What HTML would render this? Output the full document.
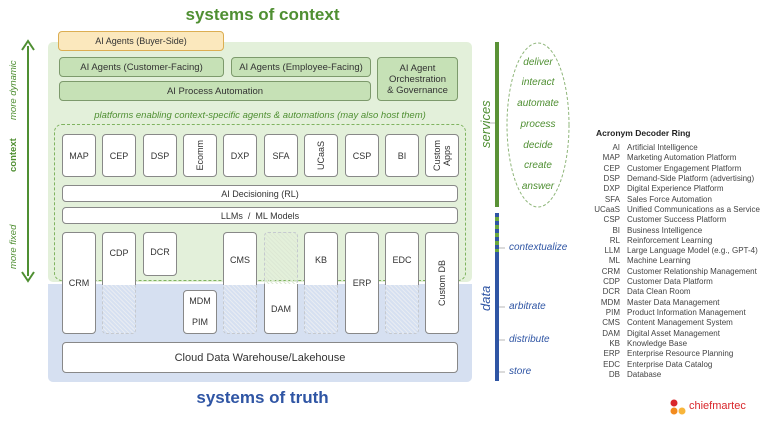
<!DOCTYPE html>
<html><head><meta charset="utf-8"><style>
*{margin:0;padding:0;box-sizing:border-box}
body{width:768px;height:422px;background:#fff;position:relative;overflow:hidden;font-family:"Liberation Sans",sans-serif;color:#333}
.a{position:absolute}
.b{position:absolute;border:1px solid #888;border-radius:4px;background:#fff;display:flex;align-items:center;justify-content:center;font-size:9px;color:#333;text-align:center}
.g{background:#c6e1b6;border-color:#7d9a6c;font-size:9.5px;line-height:11px}
.h{position:absolute;border:1px dashed #c5c9cf;border-radius:0 0 4px 4px;background:repeating-linear-gradient(45deg,#e8ecf2 0 1px,transparent 1px 3px)}
.v{writing-mode:vertical-rl;transform:rotate(180deg)}
.gi{color:#4f8f32;font-style:italic}
.bi{color:#2f55a4;font-style:italic}
.w{position:absolute;left:507px;width:62px;text-align:center;font-size:10px}
.ac{position:absolute;left:560px;font-size:8px;color:#444;white-space:nowrap}
.ac span{display:inline-block;width:60px;text-align:right;margin-right:7px}
</style></head><body>
<div class="a" style="left:0;top:5px;width:525px;text-align:center;font-size:17px;font-weight:bold;color:#4f8f32">systems of context</div>
<div class="a" style="left:48px;top:42px;width:424px;height:240px;background:#e3f0da;border-radius:5px"></div>
<div class="a" style="left:48px;top:284px;width:424px;height:98px;background:#d6e0f1;border-radius:0 0 5px 5px"></div>
<div class="b" style="left:58px;top:31px;width:166px;height:20px;background:#fbe8bd;border-color:#dcae52">AI Agents (Buyer-Side)</div>
<div class="b g" style="left:59px;top:57px;width:165px;height:20px">AI Agents (Customer-Facing)</div>
<div class="b g" style="left:231px;top:57px;width:140px;height:20px">AI Agents (Employee-Facing)</div>
<div class="b g" style="left:377px;top:57px;width:81px;height:44px">AI Agent<br>Orchestration<br>&amp; Governance</div>
<div class="b g" style="left:59px;top:81px;width:312px;height:20px">AI Process Automation</div>
<div class="a gi" style="left:48px;top:110px;width:424px;text-align:center;font-size:9.5px">platforms enabling context-specific agents &amp; automations (may also host them)</div>
<div class="a" style="left:54px;top:124px;width:412px;height:157px;border:1px dashed #7fb35f;border-radius:8px"></div>
<div class="b" style="left:62px;top:134px;width:34px;height:43px">MAP</div>
<div class="b" style="left:102px;top:134px;width:34px;height:43px">CEP</div>
<div class="b" style="left:143px;top:134px;width:34px;height:43px">DSP</div>
<div class="b" style="left:183px;top:134px;width:34px;height:43px"><span class="v">Ecomm</span></div>
<div class="b" style="left:223px;top:134px;width:34px;height:43px">DXP</div>
<div class="b" style="left:264px;top:134px;width:34px;height:43px">SFA</div>
<div class="b" style="left:304px;top:134px;width:34px;height:43px"><span class="v">UCaaS</span></div>
<div class="b" style="left:345px;top:134px;width:34px;height:43px">CSP</div>
<div class="b" style="left:385px;top:134px;width:34px;height:43px">BI</div>
<div class="b" style="left:425px;top:134px;width:34px;height:43px;line-height:10px"><span class="v">Custom<br>Apps</span></div>
<div class="b" style="left:62px;top:185px;width:396px;height:17px">AI Decisioning (RL)</div>
<div class="b" style="left:62px;top:207px;width:396px;height:17px">LLMs &nbsp;/ &nbsp;ML Models</div>
<div class="b" style="left:62px;top:232px;width:34px;height:102px">CRM</div>
<div class="h" style="left:102px;top:284px;width:34px;height:50px"></div>
<div class="b" style="left:102px;top:232px;width:34px;height:53px;border-radius:4px 4px 0 0;border-bottom:none;align-items:flex-start;padding-top:15px">CDP</div>
<div class="b" style="left:143px;top:232px;width:34px;height:44px;align-items:flex-start;padding-top:14px">DCR</div>
<div class="b" style="left:183px;top:290px;width:34px;height:44px;line-height:21px">MDM<br>PIM</div>
<div class="h" style="left:223px;top:284px;width:34px;height:50px"></div>
<div class="b" style="left:223px;top:232px;width:34px;height:53px;border-radius:4px 4px 0 0;border-bottom:none;align-items:flex-start;padding-top:22px">CMS</div>
<div class="h" style="left:264px;top:232px;width:34px;height:54px;border-radius:4px 4px 0 0;background:repeating-linear-gradient(45deg,#dde8d4 0 1px,transparent 1px 3px)"></div>
<div class="b" style="left:264px;top:284px;width:34px;height:50px;border-radius:0 0 4px 4px;border-top:none">DAM</div>
<div class="h" style="left:304px;top:284px;width:34px;height:50px"></div>
<div class="b" style="left:304px;top:232px;width:34px;height:53px;border-radius:4px 4px 0 0;border-bottom:none;align-items:flex-start;padding-top:22px">KB</div>
<div class="b" style="left:345px;top:232px;width:34px;height:102px">ERP</div>
<div class="h" style="left:385px;top:284px;width:34px;height:50px"></div>
<div class="b" style="left:385px;top:232px;width:34px;height:53px;border-radius:4px 4px 0 0;border-bottom:none;align-items:flex-start;padding-top:22px">EDC</div>
<div class="b" style="left:425px;top:232px;width:34px;height:102px"><span class="v">Custom DB</span></div>
<div class="b" style="left:62px;top:342px;width:396px;height:31px;font-size:11px">Cloud Data Warehouse/Lakehouse</div>
<div class="a" style="left:0;top:388px;width:525px;text-align:center;font-size:17px;font-weight:bold;color:#2f55a4">systems of truth</div>
<svg class="a" style="left:0;top:0" width="768" height="422">
<line x1="28" y1="46" x2="28" y2="276" stroke="#4f8f32" stroke-width="2"/>
<path d="M22,50 L28,41 L34,50" fill="none" stroke="#4f8f32" stroke-width="2"/>
<path d="M22,272 L28,281 L34,272" fill="none" stroke="#4f8f32" stroke-width="2"/>
<rect x="495" y="42" width="4" height="165" fill="#5a9236"/>
<rect x="495" y="213" width="4" height="40" fill="#2f55a4"/>
<g fill="#6aa83c"><rect x="495" y="217" width="4" height="4"/><rect x="495" y="225" width="4" height="4"/><rect x="495" y="233" width="4" height="4"/><rect x="495" y="241" width="4" height="4"/><rect x="495" y="249" width="4" height="4"/></g>
<rect x="495" y="252" width="4" height="129" fill="#2f55a4"/>
<line x1="488" y1="123" x2="495" y2="123" stroke="#999" stroke-width=".7"/>
<line x1="499" y1="248" x2="505" y2="248" stroke="#999" stroke-width=".7"/>
<line x1="499" y1="307" x2="505" y2="307" stroke="#999" stroke-width=".7"/>
<line x1="499" y1="340" x2="505" y2="340" stroke="#999" stroke-width=".7"/>
<line x1="499" y1="372" x2="505" y2="372" stroke="#999" stroke-width=".7"/>
<ellipse cx="538" cy="125" rx="31" ry="82" fill="none" stroke="#8fb67a" stroke-width="1" stroke-dasharray="3,2"/>
<circle cx="674" cy="403" r="3.5" fill="#d9262b"/><circle cx="674" cy="411" r="3.5" fill="#f28a1e"/><circle cx="682" cy="411" r="3.5" fill="#f8b53a"/>
</svg>
<div class="a gi v" style="left:8px;top:60px;height:60px;font-size:9.5px;text-align:center">more dynamic</div>
<div class="a v" style="left:8px;top:135px;height:40px;font-size:9.5px;font-weight:bold;color:#4f8f32;text-align:center">context</div>
<div class="a gi v" style="left:8px;top:222px;height:50px;font-size:9.5px;text-align:center">more fixed</div>
<div class="a gi v" style="left:478px;top:95px;height:58px;font-size:13px;text-align:center">services</div>
<div class="a bi v" style="left:478px;top:280px;height:36px;font-size:13px;text-align:center">data</div>
<div class="w gi" style="top:57px">deliver</div>
<div class="w gi" style="top:77px">interact</div>
<div class="w gi" style="top:98px">automate</div>
<div class="w gi" style="top:119px">process</div>
<div class="w gi" style="top:140px">decide</div>
<div class="w gi" style="top:160px">create</div>
<div class="w gi" style="top:181px">answer</div>
<div class="a bi" style="left:509px;top:242px;font-size:10px">contextualize</div>
<div class="a bi" style="left:509px;top:301px;font-size:10px">arbitrate</div>
<div class="a bi" style="left:509px;top:334px;font-size:10px">distribute</div>
<div class="a bi" style="left:509px;top:366px;font-size:10px">store</div>
<div class="a" style="left:596px;top:128px;font-size:8.5px;font-weight:bold;color:#222">Acronym Decoder Ring</div>
<div class="ac" style="top:143px"><span>AI</span>Artificial Intelligence</div>
<div class="ac" style="top:153px"><span>MAP</span>Marketing Automation Platform</div>
<div class="ac" style="top:163.5px"><span>CEP</span>Customer Engagement Platform</div>
<div class="ac" style="top:174px"><span>DSP</span>Demand-Side Platform (advertising)</div>
<div class="ac" style="top:184px"><span>DXP</span>Digital Experience Platform</div>
<div class="ac" style="top:194.5px"><span>SFA</span>Sales Force Automation</div>
<div class="ac" style="top:205px"><span>UCaaS</span>Unified Communications as a Service</div>
<div class="ac" style="top:215px"><span>CSP</span>Customer Success Platform</div>
<div class="ac" style="top:225.5px"><span>BI</span>Business Intelligence</div>
<div class="ac" style="top:236px"><span>RL</span>Reinforcement Learning</div>
<div class="ac" style="top:246px"><span>LLM</span>Large Language Model (e.g., GPT-4)</div>
<div class="ac" style="top:256px"><span>ML</span>Machine Learning</div>
<div class="ac" style="top:266.5px"><span>CRM</span>Customer Relationship Management</div>
<div class="ac" style="top:277px"><span>CDP</span>Customer Data Platform</div>
<div class="ac" style="top:287px"><span>DCR</span>Data Clean Room</div>
<div class="ac" style="top:297.5px"><span>MDM</span>Master Data Management</div>
<div class="ac" style="top:308px"><span>PIM</span>Product Information Management</div>
<div class="ac" style="top:318px"><span>CMS</span>Content Management System</div>
<div class="ac" style="top:328.5px"><span>DAM</span>Digital Asset Management</div>
<div class="ac" style="top:339px"><span>KB</span>Knowledge Base</div>
<div class="ac" style="top:349px"><span>ERP</span>Enterprise Resource Planning</div>
<div class="ac" style="top:359.5px"><span>EDC</span>Enterprise Data Catalog</div>
<div class="ac" style="top:370px"><span>DB</span>Database</div>
<div class="a" style="left:689px;top:400px;font-size:11px;color:#d9262b">chiefmartec</div>
</body></html>
